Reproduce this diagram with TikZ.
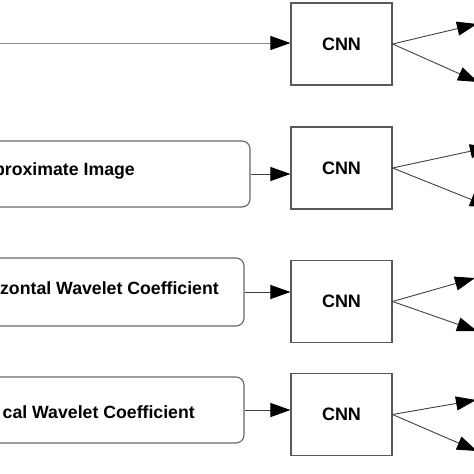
\documentclass[tikz,border=0pt]{standalone}
\usepackage{fontspec}
\setmainfont{Liberation Sans}
\usetikzlibrary{arrows.meta}
\def\labelfont{\bfseries\fontsize{18}{21}\selectfont}
\def\inputfont{\bfseries\fontsize{17.7}{21}\selectfont}

\tikzset{
	cnnbox/.style={draw=black!65, line width=1.1pt, minimum width=101pt, minimum height=82pt, inner sep=0pt, font=\labelfont},
	inbox/.style={draw=black!60, line width=1.1pt, rounded corners=8pt, inner sep=0pt},
	inlabel/.style={anchor=base east, inner sep=0pt, font=\inputfont},
	flow/.style={draw=black!75, line width=0.9pt, -{Triangle[length=20pt,width=14pt,color=black]}},
	feed/.style={flow, draw=black!45},
}

\begin{document}
\begin{tikzpicture}[x=1pt, y=-1pt]
			%%%%% START %%%%%
			
			\useasboundingbox (0, 0) rectangle (474, 474);
			\clip (0, 0) rectangle (474, 474);
			
			\node[cnnbox] (cnn1) at (341.5, 44) {CNN};
			\node[cnnbox] (cnn2) at (341.5, 168) {CNN};
			\node[cnnbox] (cnn3) at (341.5, 301.5) {CNN};
			\node[cnnbox] (cnn4) at (341.5, 414.5) {CNN};
			
			\node[inbox, minimum width=330pt, minimum height=66pt] (in2) at (85, 174) {};
			\node[inbox, minimum width=324pt, minimum height=68pt] (in3) at (82, 292) {};
			\node[inbox, minimum width=324pt, minimum height=66pt] (in4) at (82, 410) {};
			
			\node[inlabel] (lbl2) at (135, 175) {proximate Image};
			\node[inlabel] (lbl3) at (219, 294) {zontal Wavelet Coefficient};
			\node[inlabel] (lbl4) at (195, 418) {cal Wavelet Coefficient};
			
			\coordinate (src1) at (-10, 43);
			\draw[feed] (src1) -- (src1 -| cnn1.west);
			\draw[flow] (in2.east) -- (in2.east -| cnn2.west);
			\draw[flow] (in3.east) -- (in3.east -| cnn3.west);
			\draw[flow] (in4.east) -- (in4.east -| cnn4.west);
			
			\coordinate (out1a) at (477, 24);
			\coordinate (out1b) at (478, 82);
			\coordinate (out2a) at (490, 147);
			\coordinate (out2b) at (490, 207);
			\coordinate (out3a) at (475, 278);
			\coordinate (out3b) at (477, 331);
			\coordinate (out4a) at (476, 400);
			\coordinate (out4b) at (477, 451);
			
			\draw[flow] (cnn1.east) -- (out1a);
			\draw[flow] (cnn1.east) -- (out1b);
			\draw[flow] (cnn2.east) -- (out2a);
			\draw[flow] (cnn2.east) -- (out2b);
			\draw[flow] (cnn3.east) -- (out3a);
			\draw[flow] (cnn3.east) -- (out3b);
			\draw[flow] (cnn4.east) -- (out4a);
			\draw[flow] (cnn4.east) -- (out4b);
			
			%%%%% END %%%%%
\end{tikzpicture}
\end{document}
